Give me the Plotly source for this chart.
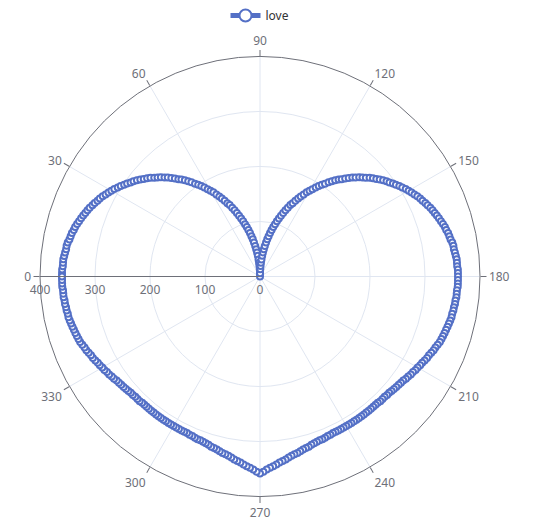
import plotly.graph_objects as go

# Upper-left lobe: radius read at angle 0..90 (1 degree steps)
lobe_r = [360, 360, 360, 359, 359, 359, 358, 357, 356, 356,
          355, 353, 352, 351, 349, 348, 346, 344, 342, 340,
          338, 336, 334, 331, 329, 326, 324, 321, 318, 315,
          312, 309, 305, 302, 298, 295, 291, 288, 284, 280,
          276, 272, 268, 263, 259, 255, 250, 246, 241, 236,
          231, 227, 222, 217, 212, 206, 201, 196, 191, 185,
          180, 175, 169, 163, 158, 152, 146, 141, 135, 129,
          123, 117, 111, 105, 99, 93, 87, 81, 75, 69,
          63, 56, 50, 44, 38, 31, 25, 19, 13, 6, 0]

# Lower-right side: radius read at angle 180..270 (1 degree steps)
lower_r = [360, 360, 360, 360, 359, 359, 359, 358, 358, 357,
           357, 356, 356, 355, 354, 353, 352, 351, 350, 349,
           348, 346, 344, 343, 341, 339, 338, 336, 334, 333,
           331, 330, 328, 327, 325, 324, 322, 321, 320, 319,
           318, 317, 316, 316, 315, 315, 315, 314, 314, 314,
           314, 314, 314, 314, 314, 314, 314, 314, 314, 314,
           314, 314, 314, 314, 314, 314, 315, 315, 316, 317,
           317, 318, 319, 320, 322, 323, 324, 326, 328, 329,
           331, 333, 336, 338, 340, 343, 346, 348, 351, 355, 358]

# symmetric halves: 0-90, 90-180, 180-270, 270-360
r_values = lobe_r + lobe_r[::-1][1:] + lower_r[1:] + lower_r[::-1][1:]
theta_values = list(range(0, 361))

angle_ticks = [0, 30, 60, 90, 120, 150, 180, 210, 240, 270, 300, 330]
radius_ticks = [0, 100, 200, 300, 400]
radius_labels = ["0", "100", "200", "300", "400"]

blue = "#5470c6"
axis_col = "#6E7079"
grid_col = "#E0E6F1"

fig = go.Figure()
fig.add_trace(go.Scatterpolar(
    r=r_values, theta=theta_values, mode="lines+markers", name="love",
    line=dict(color=blue, width=2),
    marker=dict(symbol="circle", size=6, color="white",
                line=dict(color=blue, width=2)),
))
# radius-axis tick labels, centred under each tick on the 0-degree axis line
# (an invisible marker sets the label's gap below the axis line)
fig.add_trace(go.Scatterpolar(
    r=radius_ticks, theta=[0] * len(radius_ticks), mode="markers+text",
    marker=dict(size=12, color="rgba(0,0,0,0)"),
    text=radius_labels, textposition="bottom center",
    textfont=dict(size=12, color=axis_col,
                  family="Noto Sans, DejaVu Sans, sans-serif"),
    cliponaxis=False, showlegend=False, hoverinfo="skip",
))

# the page body adds an 8px offset; size the figure so it ends at the window edge
OFF = 8
W, H = 550 - OFF, 525 - OFF
cx, cy, R = 260 - OFF, 276.5 - OFF, 220
fig.update_layout(
    width=W, height=H,
    margin=dict(l=0, r=0, t=0, b=0, autoexpand=False),
    paper_bgcolor="white",
    font=dict(family="Noto Sans, DejaVu Sans, sans-serif", size=12, color=axis_col),
    showlegend=True,
    legend=dict(orientation="h", x=(260 - OFF) / W, xanchor="center",
                y=1 + 7 / H, yanchor="top", itemsizing="constant",
                font=dict(size=12, color="#333333"), bgcolor="rgba(0,0,0,0)"),
    polar=dict(
        domain=dict(x=[(cx - R) / W, (cx + R) / W],
                    y=[(H - cy - R) / H, (H - cy + R) / H]),
        bgcolor="white",
        angularaxis=dict(
            rotation=180, direction="clockwise",
            tickmode="array", tickvals=angle_ticks,
            ticktext=[str(a) for a in angle_ticks],
            showline=True, linecolor=axis_col, linewidth=1,
            ticks="outside", ticklen=6, tickcolor=axis_col,
            gridcolor=grid_col, gridwidth=1,
            tickfont=dict(size=12, color=axis_col),
        ),
        radialaxis=dict(
            range=[0, 400], angle=180, side="counterclockwise",
            tickmode="array", tickvals=radius_ticks,
            showticklabels=False,
            showline=True, linecolor=axis_col, linewidth=1,
            ticks="", gridcolor=grid_col, gridwidth=1,
        ),
    ),
)

fig.write_html("out.html")
